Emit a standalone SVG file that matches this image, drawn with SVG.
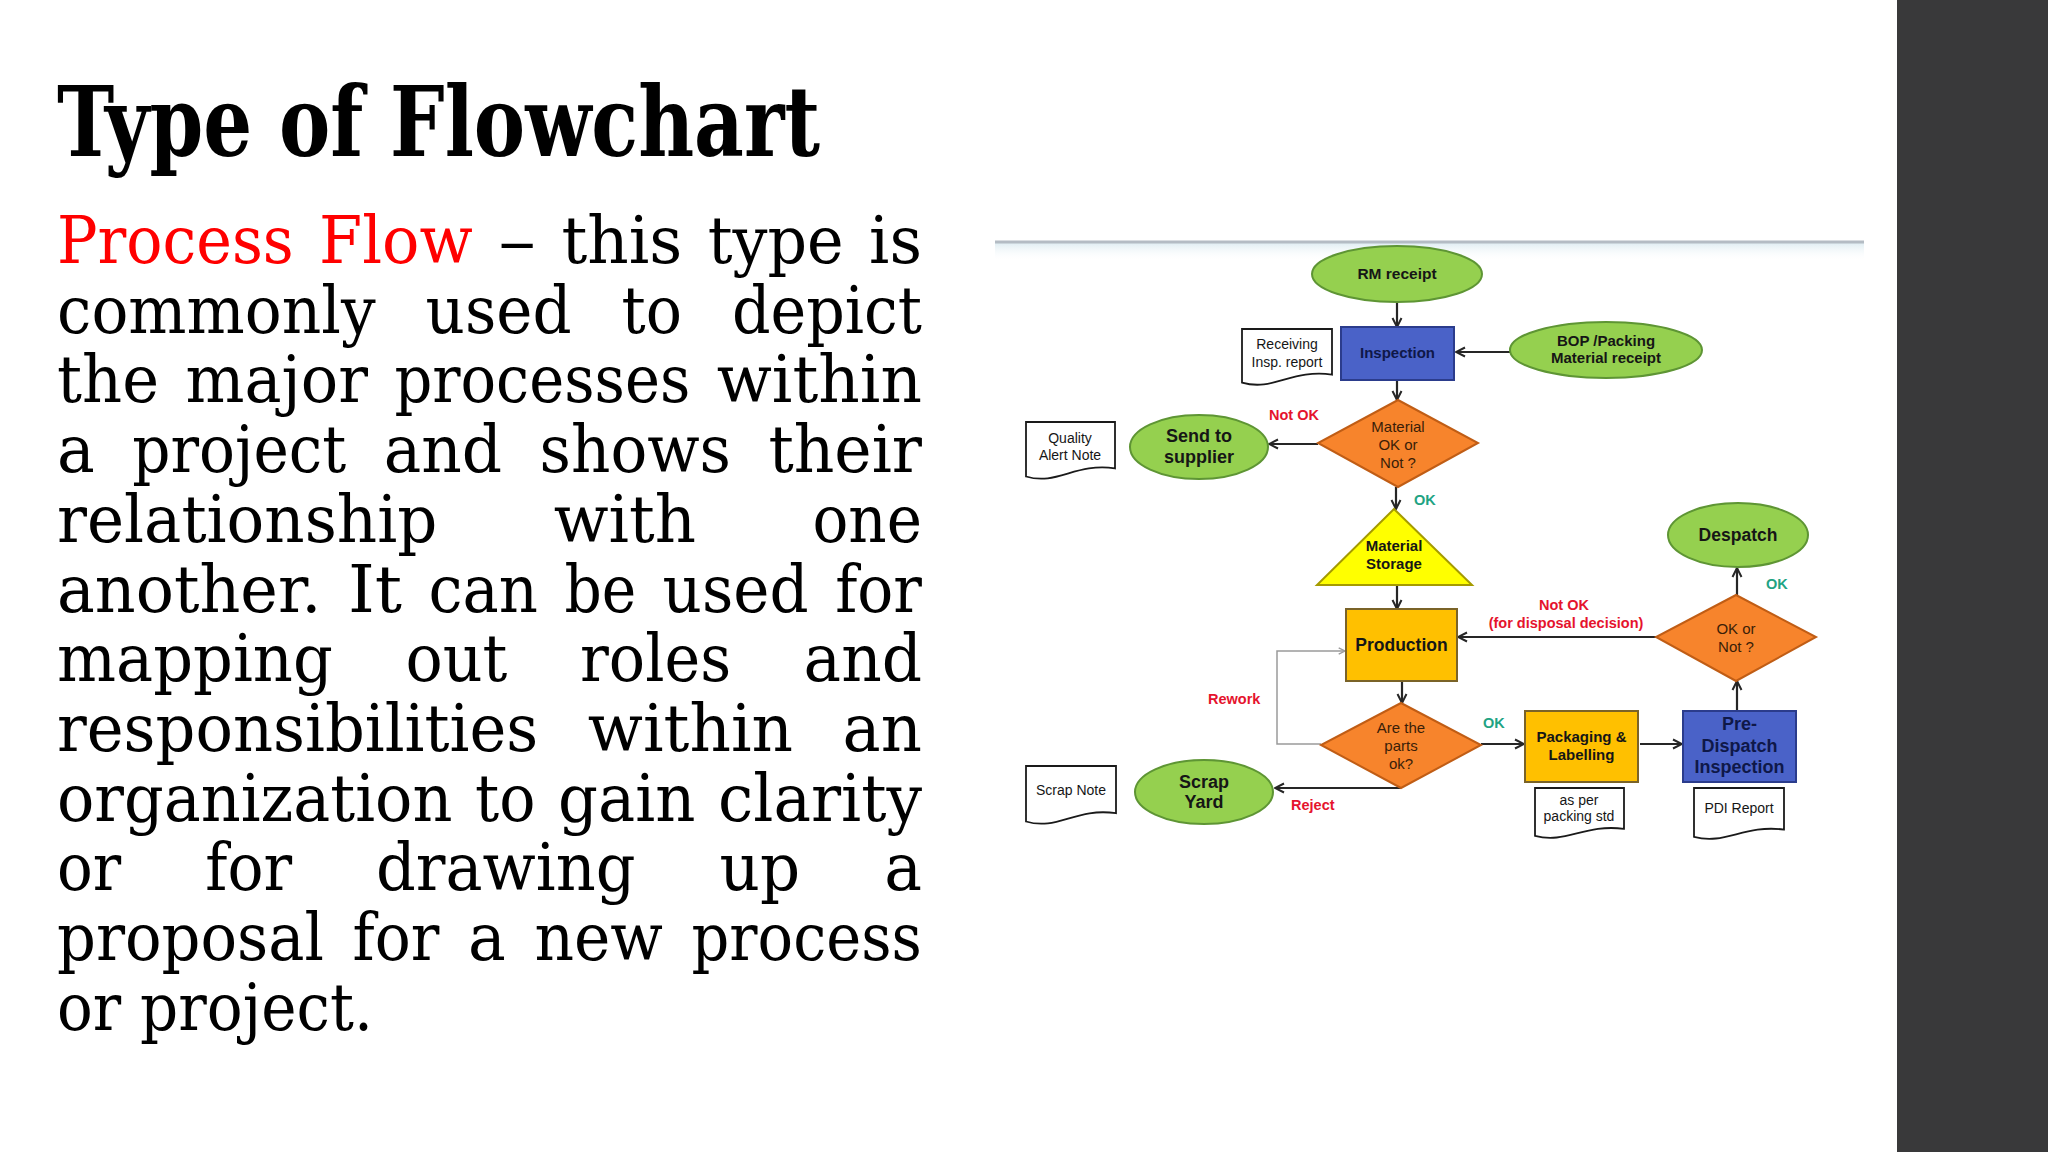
<svg xmlns="http://www.w3.org/2000/svg" width="2048" height="1152" viewBox="0 0 2048 1152">
<defs>
<style>
.title{font-family:'DejaVu Serif Condensed','DejaVu Serif',serif;font-weight:bold;font-size:98px;fill:#000}
.body{font-family:'DejaVu Serif',serif;font-size:65px;fill:#000}
.red{fill:#ff0000}
.t{font-family:'Liberation Sans',Arial,sans-serif;text-anchor:middle;fill:#161616}
.b{font-weight:bold}
.navy{fill:#0f1848}
.dk{fill:#3a1e08}
.green{fill:#95d04f;stroke:#5e9534;stroke-width:2}
.orange{fill:#f7842c;stroke:#c05d15;stroke-width:2}
.blue{fill:#4a62c8;stroke:#2b3c8c;stroke-width:2}
.gold{fill:#ffc000;stroke:#7a6328;stroke-width:2}
.yellow{fill:#ffff00;stroke:#a59b00;stroke-width:2}
.doc{fill:#fff;stroke:#1a1a1a;stroke-width:1.8}
.edge{fill:none;stroke:#262626;stroke-width:2.2;marker-end:url(#arr)}
.rework{fill:none;stroke:#9a9a9a;stroke-width:1.5;marker-end:url(#arrg)}
.lr{font-family:'Liberation Sans',Arial,sans-serif;font-weight:bold;font-size:14.5px;fill:#e5132d}
.lg{font-family:'Liberation Sans',Arial,sans-serif;font-weight:bold;font-size:14.5px;fill:#1fa383}
</style>
<marker id="arr" viewBox="0 0 12 12" refX="11" refY="6" markerWidth="12" markerHeight="12" markerUnits="userSpaceOnUse" orient="auto">
<path d="M2,1.5 L11,6 L2,10.5" fill="none" stroke="#262626" stroke-width="2"/>
</marker>
<marker id="arrg" viewBox="0 0 10 10" refX="9" refY="5" markerWidth="9" markerHeight="9" markerUnits="userSpaceOnUse" orient="auto">
<path d="M2,1.5 L9,5 L2,8.5" fill="none" stroke="#9a9a9a" stroke-width="1.5"/>
</marker>
<linearGradient id="fade" x1="0" y1="0" x2="0" y2="1">
<stop offset="0" stop-color="#dcebf1" stop-opacity="0.9"/>
<stop offset="1" stop-color="#ffffff" stop-opacity="0"/>
</linearGradient>
</defs>

<rect x="0" y="0" width="2048" height="1152" fill="#ffffff"/>
<rect id="side-panel" x="1897" y="0" width="151" height="1152" fill="#39393a"/>

<g id="title">
<text class="title" x="57" y="156" textLength="763" lengthAdjust="spacingAndGlyphs">Type of Flowchart</text>
</g>

<g id="body-text">
<text class="body red" x="57" y="263" textLength="236.7" lengthAdjust="spacingAndGlyphs">Process</text>
<text class="body red" x="319.1" y="263" textLength="153.7" lengthAdjust="spacingAndGlyphs">Flow</text>
<text class="body" x="498.2" y="263" textLength="37.8" lengthAdjust="spacingAndGlyphs">–</text>
<text class="body" x="561.4" y="263" textLength="120.9" lengthAdjust="spacingAndGlyphs">this</text>
<text class="body" x="707.7" y="263" textLength="136" lengthAdjust="spacingAndGlyphs">type</text>
<text class="body" x="869.1" y="263" textLength="52.9" lengthAdjust="spacingAndGlyphs">is</text>

<text class="body" x="57" y="332.7" textLength="318.6" lengthAdjust="spacingAndGlyphs">commonly</text>
<text class="body" x="425.5" y="332.7" textLength="146.1" lengthAdjust="spacingAndGlyphs">used</text>
<text class="body" x="621.5" y="332.7" textLength="60.5" lengthAdjust="spacingAndGlyphs">to</text>
<text class="body" x="731.9" y="332.7" textLength="190.1" lengthAdjust="spacingAndGlyphs">depict</text>

<text class="body" x="57" y="402.4" textLength="102" lengthAdjust="spacingAndGlyphs">the</text>
<text class="body" x="185.4" y="402.4" textLength="182.6" lengthAdjust="spacingAndGlyphs">major</text>
<text class="body" x="394.4" y="402.4" textLength="295.9" lengthAdjust="spacingAndGlyphs">processes</text>
<text class="body" x="716.7" y="402.4" textLength="205.3" lengthAdjust="spacingAndGlyphs">within</text>

<text class="body" x="57" y="472.1" textLength="37.8" lengthAdjust="spacingAndGlyphs">a</text>
<text class="body" x="132.3" y="472.1" textLength="214" lengthAdjust="spacingAndGlyphs">project</text>
<text class="body" x="383.7" y="472.1" textLength="118.4" lengthAdjust="spacingAndGlyphs">and</text>
<text class="body" x="539.6" y="472.1" textLength="191.4" lengthAdjust="spacingAndGlyphs">shows</text>
<text class="body" x="768.4" y="472.1" textLength="153.6" lengthAdjust="spacingAndGlyphs">their</text>

<text class="body" x="57" y="541.8" textLength="380.3" lengthAdjust="spacingAndGlyphs">relationship</text>
<text class="body" x="553.7" y="541.8" textLength="142.3" lengthAdjust="spacingAndGlyphs">with</text>
<text class="body" x="812.5" y="541.8" textLength="109.5" lengthAdjust="spacingAndGlyphs">one</text>

<text class="body" x="57" y="611.5" textLength="264.5" lengthAdjust="spacingAndGlyphs">another.</text>
<text class="body" x="347.9" y="611.5" textLength="54.1" lengthAdjust="spacingAndGlyphs">It</text>
<text class="body" x="428.5" y="611.5" textLength="109.5" lengthAdjust="spacingAndGlyphs">can</text>
<text class="body" x="564.4" y="611.5" textLength="71.8" lengthAdjust="spacingAndGlyphs">be</text>
<text class="body" x="662.6" y="611.5" textLength="146.1" lengthAdjust="spacingAndGlyphs">used</text>
<text class="body" x="835.2" y="611.5" textLength="86.8" lengthAdjust="spacingAndGlyphs">for</text>

<text class="body" x="57" y="681.2" textLength="275.8" lengthAdjust="spacingAndGlyphs">mapping</text>
<text class="body" x="405.4" y="681.2" textLength="102" lengthAdjust="spacingAndGlyphs">out</text>
<text class="body" x="580" y="681.2" textLength="151.1" lengthAdjust="spacingAndGlyphs">roles</text>
<text class="body" x="803.6" y="681.2" textLength="118.4" lengthAdjust="spacingAndGlyphs">and</text>

<text class="body" x="57" y="750.9" textLength="481.3" lengthAdjust="spacingAndGlyphs">responsibilities</text>
<text class="body" x="587.8" y="750.9" textLength="205.3" lengthAdjust="spacingAndGlyphs">within</text>
<text class="body" x="842.6" y="750.9" textLength="79.4" lengthAdjust="spacingAndGlyphs">an</text>

<text class="body" x="57" y="820.6" textLength="395.4" lengthAdjust="spacingAndGlyphs">organization</text>
<text class="body" x="475" y="820.6" textLength="60.5" lengthAdjust="spacingAndGlyphs">to</text>
<text class="body" x="558.1" y="820.6" textLength="137.3" lengthAdjust="spacingAndGlyphs">gain</text>
<text class="body" x="718" y="820.6" textLength="204" lengthAdjust="spacingAndGlyphs">clarity</text>

<text class="body" x="57" y="890.3" textLength="64.2" lengthAdjust="spacingAndGlyphs">or</text>
<text class="body" x="205.3" y="890.3" textLength="86.8" lengthAdjust="spacingAndGlyphs">for</text>
<text class="body" x="376.1" y="890.3" textLength="259.4" lengthAdjust="spacingAndGlyphs">drawing</text>
<text class="body" x="719.6" y="890.3" textLength="80.6" lengthAdjust="spacingAndGlyphs">up</text>
<text class="body" x="884.2" y="890.3" textLength="37.8" lengthAdjust="spacingAndGlyphs">a</text>

<text class="body" x="57" y="960" textLength="267" lengthAdjust="spacingAndGlyphs">proposal</text>
<text class="body" x="352.6" y="960" textLength="86.8" lengthAdjust="spacingAndGlyphs">for</text>
<text class="body" x="468" y="960" textLength="37.8" lengthAdjust="spacingAndGlyphs">a</text>
<text class="body" x="534.4" y="960" textLength="128.5" lengthAdjust="spacingAndGlyphs">new</text>
<text class="body" x="691.5" y="960" textLength="230.4" lengthAdjust="spacingAndGlyphs">process</text>

<text class="body" x="57" y="1029.7" textLength="64.2" lengthAdjust="spacingAndGlyphs">or</text>
<text class="body" x="140.1" y="1029.7" textLength="232.9" lengthAdjust="spacingAndGlyphs">project.</text>
</g>

<g id="separator">
<rect x="995" y="243" width="869" height="18" fill="url(#fade)"/>
<line x1="995" y1="242" x2="1864" y2="242" stroke="#b4bcc4" stroke-width="3"/>
</g>

<g id="connectors">
<path class="edge" d="M1397,302 V327"/>
<path class="edge" d="M1510,352 H1456"/>
<path class="edge" d="M1397,380 V400"/>
<path class="edge" d="M1318,444 H1269"/>
<path class="edge" d="M1396,487 V509"/>
<path class="edge" d="M1397,585 V609"/>
<path class="edge" d="M1402,681 V703"/>
<path class="rework" d="M1321,744 H1277 V651 H1345"/>
<path class="edge" d="M1401,788 H1275"/>
<path class="edge" d="M1481,744 H1524"/>
<path class="edge" d="M1640,744 H1682"/>
<path class="edge" d="M1737,711 V681"/>
<path class="edge" d="M1737,595 V568"/>
<path class="edge" d="M1656,637 H1458"/>
</g>

<g id="edge-labels">
<text class="lr" x="1269" y="420">Not OK</text>
<text class="lg" x="1414" y="505">OK</text>
<text class="lr" x="1564" y="610" text-anchor="middle">Not OK</text>
<text class="lr" x="1566" y="628" text-anchor="middle">(for disposal decision)</text>
<text class="lg" x="1766" y="589">OK</text>
<text class="lr" x="1208" y="704">Rework</text>
<text class="lg" x="1483" y="728">OK</text>
<text class="lr" x="1291" y="810">Reject</text>
</g>

<g id="rm-receipt">
<ellipse class="green" cx="1397" cy="274" rx="85" ry="28"/>
<text class="t b" x="1397" y="279" font-size="15.5">RM receipt</text>
</g>

<g id="inspection">
<rect class="blue" x="1341" y="327" width="113" height="53"/>
<text class="t b navy" x="1397.5" y="358" font-size="15">Inspection</text>
</g>

<g id="receiving-report">
<path class="doc" d="M1242,329 H1332 V374.6 C1291.5,368.9 1273.5,391.7 1242,382.6 Z"/>
<text class="t" x="1287" y="349" font-size="14">Receiving</text>
<text class="t" x="1287" y="367" font-size="14">Insp. report</text>
</g>

<g id="bop-receipt">
<ellipse class="green" cx="1606" cy="350" rx="96" ry="28"/>
<text class="t b" x="1606" y="346" font-size="15">BOP /Packing</text>
<text class="t b" x="1606" y="363" font-size="15">Material receipt</text>
</g>

<g id="material-ok">
<polygon class="orange" points="1398,400 1478,443 1398,487 1318,443"/>
<text class="t dk" x="1398" y="432" font-size="15">Material</text>
<text class="t dk" x="1398" y="450" font-size="15">OK or</text>
<text class="t dk" x="1398" y="468" font-size="15">Not ?</text>
</g>

<g id="send-to-supplier">
<ellipse class="green" cx="1199" cy="447" rx="69" ry="32"/>
<text class="t b" x="1199" y="442" font-size="18">Send to</text>
<text class="t b" x="1199" y="463" font-size="18">supplier</text>
</g>

<g id="quality-alert-note">
<path class="doc" d="M1026,422 H1115 V468.4 C1075,462.6 1057.2,485.8 1026,476.5 Z"/>
<text class="t" x="1070" y="443" font-size="14">Quality</text>
<text class="t" x="1070" y="460" font-size="14">Alert Note</text>
</g>

<g id="material-storage">
<polygon class="yellow" points="1394,509 1472,585 1317,585"/>
<text class="t b" x="1394" y="551" font-size="15">Material</text>
<text class="t b" x="1394" y="569" font-size="15">Storage</text>
</g>

<g id="production">
<rect class="gold" x="1346" y="609" width="111" height="72"/>
<text class="t b" x="1401.5" y="651" font-size="17.5">Production</text>
</g>

<g id="parts-ok">
<polygon class="orange" points="1401,703 1481,745 1401,788 1321,745"/>
<text class="t dk" x="1401" y="733" font-size="15">Are the</text>
<text class="t dk" x="1401" y="751" font-size="15">parts</text>
<text class="t dk" x="1401" y="769" font-size="15">ok?</text>
</g>

<g id="scrap-yard">
<ellipse class="green" cx="1204" cy="792" rx="69" ry="32"/>
<text class="t b" x="1204" y="788" font-size="18">Scrap</text>
<text class="t b" x="1204" y="808" font-size="18">Yard</text>
</g>

<g id="scrap-note">
<path class="doc" d="M1026,766 H1116 V813.2 C1075.5,807.3 1057.5,830.9 1026,821.5 Z"/>
<text class="t" x="1071" y="795" font-size="14">Scrap Note</text>
</g>

<g id="packaging">
<rect class="gold" x="1525" y="711" width="113" height="71"/>
<text class="t b" x="1581.5" y="742" font-size="15">Packaging &amp;</text>
<text class="t b" x="1581.5" y="760" font-size="15">Labelling</text>
</g>

<g id="packing-std">
<path class="doc" d="M1535,788 H1624 V828.8 C1584,823.7 1566.2,844.1 1535,835.9 Z"/>
<text class="t" x="1579" y="805" font-size="14">as per</text>
<text class="t" x="1579" y="821" font-size="14">packing std</text>
</g>

<g id="pre-dispatch">
<rect class="blue" x="1683" y="711" width="113" height="71"/>
<text class="t b navy" x="1739.5" y="730" font-size="18">Pre-</text>
<text class="t b navy" x="1739.5" y="752" font-size="18">Dispatch</text>
<text class="t b navy" x="1739.5" y="773" font-size="18">Inspection</text>
</g>

<g id="pdi-report">
<path class="doc" d="M1694,788 H1784 V829.6 C1743.5,824.4 1725.5,845.2 1694,836.9 Z"/>
<text class="t" x="1739" y="813" font-size="14">PDI Report</text>
</g>

<g id="ok-or-not">
<polygon class="orange" points="1736,595 1816,637 1736,681 1656,637"/>
<text class="t dk" x="1736" y="634" font-size="15">OK or</text>
<text class="t dk" x="1736" y="652" font-size="15">Not ?</text>
</g>

<g id="despatch">
<ellipse class="green" cx="1738" cy="535" rx="70" ry="32"/>
<text class="t b" x="1738" y="541" font-size="17.5">Despatch</text>
</g>
</svg>
